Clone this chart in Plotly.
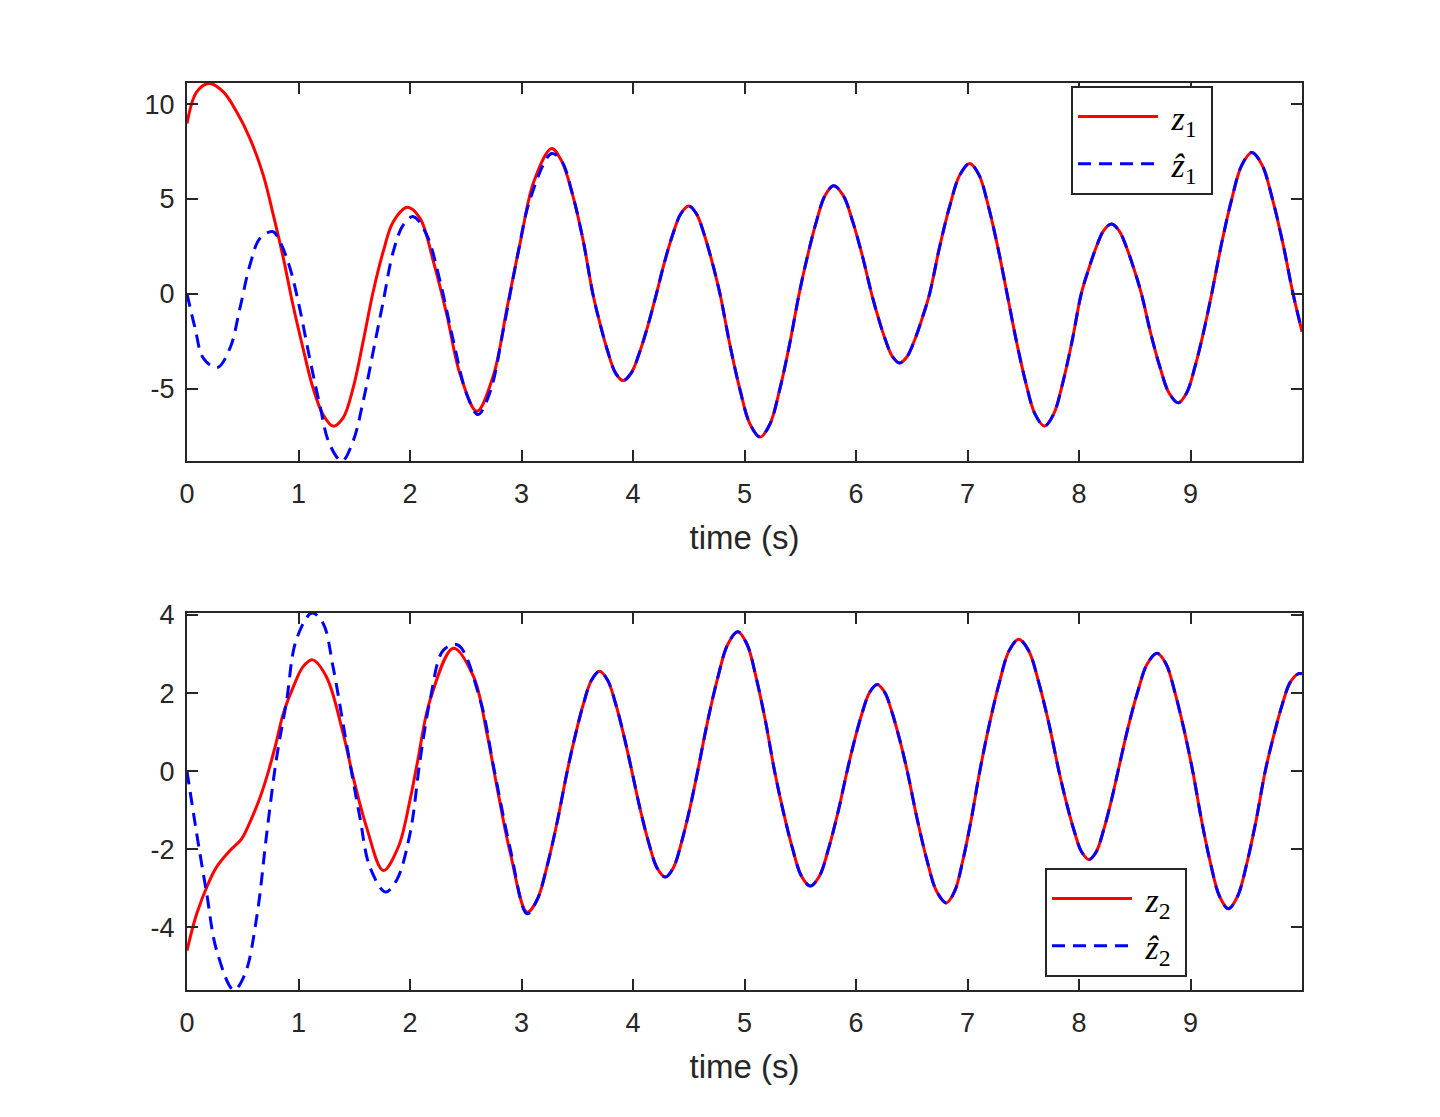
import plotly.graph_objects as go

# ---------------- data ----------------
# top panel: z1 (red) and z1-hat (blue), early transient part
t_z1 = [0, 0.087, 0.2, 0.326, 0.445, 0.565, 0.684, 0.774, 0.864, 0.95, 1.04, 1.13, 1.22,
        1.31, 1.40, 1.49, 1.58, 1.67, 1.76, 1.85, 1.976, 2.09, 2.21, 2.33, 2.45, 2.6,
        2.75, 2.87, 2.99, 3.11, 3.27]
z1 = [8.98, 10.65, 11.1, 10.65, 9.6, 8.19, 6.26, 4.16, 1.88, -0.58, -2.86, -4.96, -6.37,
      -6.98, -6.54, -4.96, -2.51, 0.12, 2.23, 3.8, 4.56, 3.98, 1.7, -1.1, -4.26, -6.19,
      -4.26, -0.75, 2.75, 5.91, 7.67]

t_zh1 = [0, 0.072, 0.146, 0.27, 0.386, 0.475, 0.565, 0.655, 0.77, 0.834, 0.924, 1.01,
         1.10, 1.19, 1.28, 1.39, 1.49, 1.58, 1.67, 1.76, 1.85, 1.94, 2.03, 2.15, 2.27,
         2.39, 2.51, 2.61, 2.72, 2.84, 2.96, 3.08, 3.27]
zh1 = [0, -1.8, -3.39, -3.9, -2.86, -0.75, 1.53, 2.93, 3.28, 2.75, 1.35, -0.75,
       -3.39, -5.84, -7.95, -8.82, -7.77, -5.67, -3.04, -0.4, 2.23, 3.63, 4.07, 3.1, 0.65,
       -2.51, -5.32, -6.37, -5.14, -1.8, 1.88, 5.04, 7.4]

# top panel: converged part (z1 and z1-hat coincide)
t_conv1 = [3.36, 3.455, 3.55, 3.64,
           3.7075, 3.775, 3.8425, 3.91, 3.985, 4.06, 4.135, 4.21,
           4.2825, 4.355, 4.4275, 4.50, 4.57, 4.64, 4.71, 4.78,
           4.87, 4.96, 5.05, 5.14, 5.2275, 5.315, 5.4025, 5.49,
           5.5675, 5.645, 5.7225, 5.80, 5.885, 5.97, 6.055, 6.14,
           6.2025, 6.265, 6.3275, 6.39, 6.4575, 6.525, 6.5925, 6.66,
           6.75, 6.84, 6.93, 7.02, 7.104, 7.1875, 7.271, 7.355,
           7.439, 7.5225, 7.606, 7.69, 7.7725, 7.855, 7.9375, 8.02,
           8.0875, 8.155, 8.2225, 8.29, 8.3575, 8.425, 8.4925, 8.56,
           8.6425, 8.725, 8.8075, 8.89, 8.965, 9.04, 9.115, 9.19,
           9.28, 9.37, 9.46, 9.55, 9.6425, 9.735, 9.8275, 9.92, 10.0]
z_conv1 = [7.0, 5.3, 2.9, 0,
           -1.65, -3.07, -4.17, -4.58, -4.17, -3.07, -1.65, 0,
           1.67, 3.10, 4.21, 4.63, 4.21, 3.10, 1.67, 0,
           -2.72, -5.07, -6.88, -7.56, -6.88, -5.07, -2.72, 0,
           2.05, 3.82, 5.19, 5.70, 5.19, 3.82, 2.05, 0,
           -1.31, -2.45, -3.32, -3.65, -3.32, -2.45, -1.31, 0,
           2.48, 4.61, 6.26, 6.88, 6.26, 4.61, 2.48, 0,
           -2.51, -4.68, -6.35, -6.98, -6.35, -4.68, -2.51, 0,
           1.32, 2.47, 3.35, 3.68, 3.35, 2.47, 1.32, 0,
           -2.07, -3.85, -5.23, -5.75, -5.23, -3.85, -2.07, 0,
           2.69, 5.0, 6.79, 7.46, 6.79, 5.0, 2.69, 0, -1.98]

# bottom panel: z2 (red) and z2-hat (blue), early transient part
t_z2 = [0, 0.087, 0.19, 0.266, 0.386, 0.49, 0.565, 0.64, 0.715, 0.79, 0.864, 0.953, 1.04,
        1.124, 1.25, 1.40, 1.49, 1.61, 1.76, 1.895, 2.0, 2.07, 2.18, 2.39, 2.57, 2.69,
        2.78, 2.9, 3.05]
z2 = [-4.59, -3.65, -2.88, -2.45, -2.03, -1.73, -1.30, -0.79, -0.15, 0.62, 1.48, 2.16, 2.67,
      2.85, 2.42, 0.97, -0.15, -1.43, -2.54, -1.94, -0.74, 0.28, 1.82, 3.15, 2.42, 0.97,
      -0.4, -2.1, -3.61]

t_zh2 = [0, 0.087, 0.177, 0.266, 0.42, 0.52, 0.625, 0.715, 0.80, 0.894, 0.98, 1.12, 1.22,
         1.31, 1.43, 1.55, 1.64, 1.78, 1.88, 2.0, 2.09, 2.18, 2.30, 2.43, 2.63, 2.75, 2.9, 3.05]
zh2 = [0, -1.6, -3.14, -4.59, -5.6, -5.19, -3.74, -1.6, 0.28, 1.82, 3.36, 4.05, 3.79,
       2.67, 0.71, -1.17, -2.45, -3.09, -2.79, -1.6, 0.28, 1.82, 3.1, 3.23, 1.82, 0.11, -2.0, -3.65]

# bottom panel: converged part
t_conv2 = [3.14, 3.23, 3.32, 3.41,
           3.4825, 3.555, 3.6275, 3.70, 3.7725, 3.845, 3.9175, 3.99,
           4.065, 4.14, 4.215, 4.29, 4.3625, 4.435, 4.5075, 4.58,
           4.67, 4.76, 4.85, 4.94, 5.0225, 5.105, 5.1875, 5.27,
           5.35, 5.43, 5.51, 5.59, 5.6725, 5.755, 5.8375, 5.92,
           5.9875, 6.055, 6.1225, 6.19, 6.2575, 6.325, 6.3925, 6.46,
           6.5475, 6.635, 6.7225, 6.81, 6.885, 6.96, 7.035, 7.11,
           7.1975, 7.285, 7.3725, 7.46, 7.55, 7.64, 7.73, 7.82,
           7.8875, 7.955, 8.0225, 8.09, 8.155, 8.22, 8.285, 8.35,
           8.4375, 8.525, 8.6125, 8.70, 8.78, 8.86, 8.94, 9.02,
           9.10, 9.18, 9.26, 9.34, 9.4225, 9.505, 9.5875, 9.67,
           9.745, 9.82, 9.895, 9.97, 10.0]
z_conv2 = [-3.29, -2.42, -1.30, 0,
           0.92, 1.72, 2.33, 2.56, 2.33, 1.72, 0.92, 0,
           -0.98, -1.82, -2.47, -2.71, -2.47, -1.82, -0.98, 0,
           1.29, 2.39, 3.25, 3.57, 3.25, 2.39, 1.29, 0,
           -1.06, -1.97, -2.68, -2.94, -2.68, -1.97, -1.06, 0,
           0.80, 1.49, 2.02, 2.22, 2.02, 1.49, 0.80, 0,
           -1.21, -2.26, -3.07, -3.37, -3.07, -2.26, -1.21, 0,
           1.22, 2.26, 3.08, 3.38, 3.08, 2.26, 1.22, 0,
           -0.81, -1.51, -2.06, -2.26, -2.06, -1.51, -0.81, 0,
           1.09, 2.02, 2.75, 3.02, 2.75, 2.02, 1.09, 0,
           -1.27, -2.36, -3.20, -3.52, -3.20, -2.36, -1.27, 0,
           0.9, 1.68, 2.28, 2.5, 2.49]

x_ticks = [0, 1, 2, 3, 4, 5, 6, 7, 8, 9]
y1_ticks = [-5, 0, 5, 10]
y2_ticks = [-4, -2, 0, 2, 4]

# ---------------- figure ----------------
W, H = 1440, 1117
RED = "#FF0000"
BLUE = "#0000FF"
AX = "#262626"
SANS = "Liberation Sans, Arial, Helvetica, sans-serif"
SERIF = "Liberation Serif, DejaVu Serif, Times New Roman, serif"

fig = go.Figure()
solid = dict(color=RED, width=3, shape="spline", smoothing=1)
dashed = dict(color=BLUE, width=3, dash="13px,8px", shape="spline", smoothing=1)

fig.add_trace(go.Scatter(x=t_z1 + t_conv1, y=z1 + z_conv1, mode="lines", line=solid,
                         name=" <i>z</i><sub>1</sub> ", xaxis="x", yaxis="y", legend="legend"))
fig.add_trace(go.Scatter(x=t_zh1 + t_conv1, y=zh1 + z_conv1, mode="lines", line=dashed,
                         name=" <i>ẑ</i><sub>1</sub> ", xaxis="x", yaxis="y", legend="legend"))
fig.add_trace(go.Scatter(x=t_z2 + t_conv2, y=z2 + z_conv2, mode="lines", line=solid,
                         name=" <i>z</i><sub>2</sub> ", xaxis="x2", yaxis="y2", legend="legend2"))
fig.add_trace(go.Scatter(x=t_zh2 + t_conv2, y=zh2 + z_conv2, mode="lines", line=dashed,
                         name=" <i>ẑ</i><sub>2</sub> ", xaxis="x2", yaxis="y2", legend="legend2"))

x_dom = [187 / W, 1302 / W]
y1_dom = [1 - 461 / H, 1 - 83 / H]
y2_dom = [1 - 990 / H, 1 - 613 / H]

def xaxis(anchor):
    return dict(domain=x_dom, anchor=anchor, range=[0, 10], tickmode="array",
                tickvals=x_ticks, ticktext=[str(v) for v in x_ticks],
                ticks="inside", ticklen=11, tickwidth=1.5, tickcolor=AX,
                showline=True, linecolor=AX, linewidth=2, mirror="ticks",
                showgrid=False, zeroline=False, automargin=False,
                ticklabelstandoff=8,
                tickfont=dict(family=SANS, size=27, color=AX),
                title=dict(text="time (s)", font=dict(family=SANS, size=33, color=AX),
                           standoff=17))

def yaxis(anchor, dom, rng, ticks):
    return dict(domain=dom, anchor=anchor, range=rng, tickmode="array",
                tickvals=ticks, ticktext=[str(v) for v in ticks],
                ticks="inside", ticklen=11, tickwidth=1.5, tickcolor=AX,
                showline=True, linecolor=AX, linewidth=2, mirror="ticks",
                showgrid=False, zeroline=False, automargin=False,
                ticklabelstandoff=5,
                tickfont=dict(family=SANS, size=27, color=AX))

legend_common = dict(bgcolor="white", bordercolor=AX, borderwidth=2,
                     font=dict(family=SERIF, size=34, color="black"),
                     xanchor="left", yanchor="top", itemwidth=80,
                     tracegroupgap=0)

fig.update_layout(
    width=W, height=H, autosize=False,
    margin=dict(l=0, r=0, t=0, b=0, autoexpand=False),
    paper_bgcolor="white", plot_bgcolor="white",
    xaxis=xaxis("y"), yaxis=yaxis("x", y1_dom, [-8.82, 11.12], y1_ticks),
    xaxis2=xaxis("y2"), yaxis2=yaxis("x2", y2_dom, [-5.6, 4.05], y2_ticks),
    legend=dict(x=1071 / W, y=1 - 86 / H, **legend_common),
    legend2=dict(x=1045 / W, y=1 - 868 / H, **legend_common),
    showlegend=True,
)

fig.write_html("out.html")
